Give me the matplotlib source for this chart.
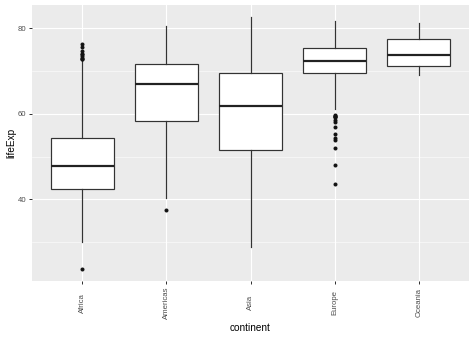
import matplotlib
matplotlib.use("Agg")
import matplotlib.pyplot as plt

# gapminder lifeExp by continent (boxplot summary)
continents = ["Africa", "Americas", "Asia", "Europe", "Oceania"]
q1 = [42.37, 58.41, 51.43, 69.57, 71.21]
med = [47.79, 67.05, 61.79, 72.24, 73.67]
q3 = [54.41, 71.70, 69.51, 75.45, 77.55]
whislo = [30.00, 40.41, 28.80, 61.05, 69.12]
whishi = [72.30, 80.65, 82.60, 81.76, 81.24]
outliers = [
    [23.60, 72.74, 72.80, 73.04, 73.62, 73.92, 73.95, 74.77, 75.74, 76.44],
    [37.58],
    [],
    [43.59, 48.08, 52.10, 53.82, 54.34, 55.23, 57.01, 58.00, 58.45,
     59.16, 59.28, 59.51, 59.60, 59.82],
    [],
]

plt.rcParams["font.family"] = ["Liberation Sans", "DejaVu Sans"]

fig = plt.figure(figsize=(474 / 72, 338 / 72), dpi=72)
ax = fig.add_axes([31.7 / 474, 1 - 281 / 338, 437.6 / 474, 276 / 338])
ax.set_facecolor("#EBEBEB")
for s in ax.spines.values():
    s.set_visible(False)

stats = []
for i, name in enumerate(continents):
    stats.append(dict(label=name, q1=q1[i], med=med[i], q3=q3[i],
                      whislo=whislo[i], whishi=whishi[i], fliers=outliers[i]))

edge = "#333333"
ax.bxp(stats, positions=range(1, 6), widths=0.75, patch_artist=True,
       boxprops=dict(facecolor="white", edgecolor=edge, linewidth=1.2),
       medianprops=dict(color="#222222", linewidth=2.2),
       whiskerprops=dict(color=edge, linewidth=1.2),
       capprops=dict(linewidth=0),
       flierprops=dict(marker="o", markerfacecolor="#111111", markeredgecolor="#111111",
                       markersize=3.0, linestyle="none"),
       zorder=3)

ax.set_xlim(0.4, 5.6)
ax.set_ylim(20.9, 85.45)
ax.set_yticks([40, 60, 80])
ax.set_yticks([30, 50, 70], minor=True)
ax.set_xticks(range(1, 6))
ax.set_xticklabels(continents, rotation=90, va="center")
ax.grid(which="major", color="white", linewidth=1.1)
ax.grid(which="minor", axis="y", color="white", linewidth=0.55)
ax.set_axisbelow(True)

ax.tick_params(axis="both", which="major", colors="#333333", length=2.75, width=1.0,
               labelsize=7.8, labelcolor="#4D4D4D")
ax.tick_params(axis="x", pad=19)
ax.tick_params(axis="y", pad=2.5)
ax.tick_params(which="minor", length=0)

ax.set_xlabel("continent", fontsize=10, color="black")
ax.set_ylabel("lifeExp", fontsize=10, color="black")
ax.xaxis.set_label_coords(0.5, -0.152)
ax.yaxis.set_label_coords(-0.035, 0.5)

fig.savefig("out.png", dpi=72)
